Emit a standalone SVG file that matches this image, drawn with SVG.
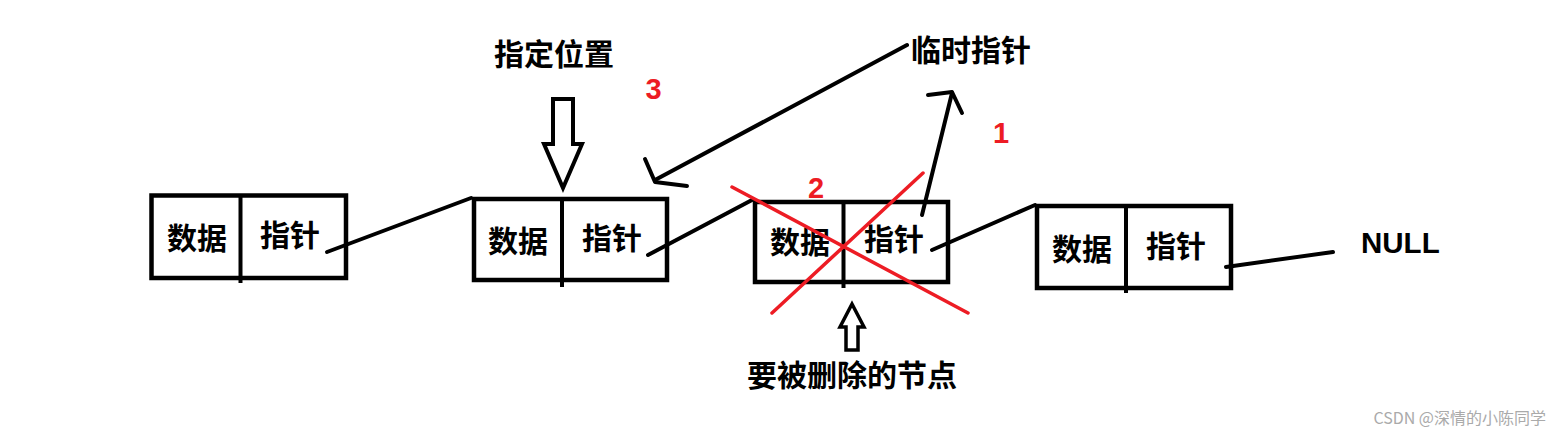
<svg xmlns="http://www.w3.org/2000/svg" width="1559" height="438" viewBox="0 0 1559 438">
<style>
.box{fill:none;stroke:#000;stroke-width:4.5}
.div{stroke:#000;stroke-width:4}
.cn{fill:none;stroke:#000;stroke-width:4;stroke-linecap:round;stroke-linejoin:round}
.red{stroke:#ed1c24;stroke-width:3.5;stroke-linecap:round}
.t{font-family:"Noto Sans CJK SC","Microsoft YaHei",sans-serif;font-weight:bold;font-size:30px;fill:#000;text-anchor:middle}
.n{font-family:"Liberation Sans",Arial,sans-serif;font-weight:bold;font-size:29px;fill:#ed1c24;text-anchor:middle}
.null{font-family:"Liberation Sans",Arial,sans-serif;font-weight:bold;font-size:29.5px;fill:#000}
.wm{font-family:"Noto Sans CJK SC",sans-serif;font-size:16px;fill:#aaa;text-anchor:end}
.blk{fill:#fff;stroke:#000;stroke-width:4;stroke-linejoin:miter}
</style>
<rect width="1559" height="438" fill="#fff"/>
<g id="node1">
<rect class="box" x="151.5" y="195.5" width="194.5" height="82.5"/>
<line class="div" x1="240.5" y1="195" x2="240.5" y2="283"/>
<text class="t" x="197" y="248.5">数据</text>
<text class="t" x="290" y="246">指针</text>
</g>
<g id="node2">
<rect class="box" x="474" y="199" width="193" height="81"/>
<line class="div" x1="562" y1="199" x2="562" y2="287"/>
<text class="t" x="518" y="252">数据</text>
<text class="t" x="612" y="249">指针</text>
</g>
<g id="node3">
<rect class="box" x="755" y="202" width="193" height="80"/>
<line class="div" x1="843.5" y1="202" x2="843.5" y2="288"/>
<text class="t" x="800" y="253">数据</text>
<text class="t" x="894" y="250">指针</text>
</g>
<g id="node4">
<rect class="box" x="1037" y="206" width="194" height="82"/>
<line class="div" x1="1126" y1="206" x2="1126" y2="293"/>
<text class="t" x="1082" y="260">数据</text>
<text class="t" x="1176" y="257">指针</text>
</g>
<g id="null">
<text class="null" x="1361" y="253">NULL</text>
</g>
<g id="label-pos">
<text class="t" x="554" y="65">指定位置</text>
<path class="blk" d="M553,99 H573 V144 H582 L563,188 L544,144 H553 Z"/>
</g>
<g id="label-tmp">
<text class="t" x="971" y="61">临时指针</text>
</g>
<g id="label-del">
<path class="blk" d="M852,304 L864,327 H858 V350 H846 V327 H840 Z" style="stroke-width:3.5"/>
<text class="t" x="852" y="386">要被删除的节点</text>
</g>
<g id="connectors">
<line class="cn" x1="327" y1="252" x2="471" y2="198"/>
<line class="cn" x1="648" y1="255" x2="752" y2="200"/>
<line class="cn" x1="932" y1="250" x2="1035" y2="205"/>
<line class="cn" x1="1226" y1="267" x2="1333" y2="252"/>
<line class="cn" x1="907" y1="45" x2="655" y2="180"/>
<polyline class="cn" points="645,159 655,182 687,186"/>
<line class="cn" x1="922" y1="215" x2="952" y2="93"/>
<polyline class="cn" points="928,95 952,92 962,113"/>
</g>
<g id="cross">
<line class="red" x1="732" y1="187" x2="968" y2="313"/>
<line class="red" x1="772" y1="313" x2="923" y2="173"/>
</g>
<g id="steps">
<text class="n" x="653.5" y="99">3</text>
<text class="n" x="1001" y="143">1</text>
<text class="n" x="816" y="198">2</text>
</g>
<text class="wm" x="1546" y="424">CSDN @深情的小陈同学</text>
</svg>
